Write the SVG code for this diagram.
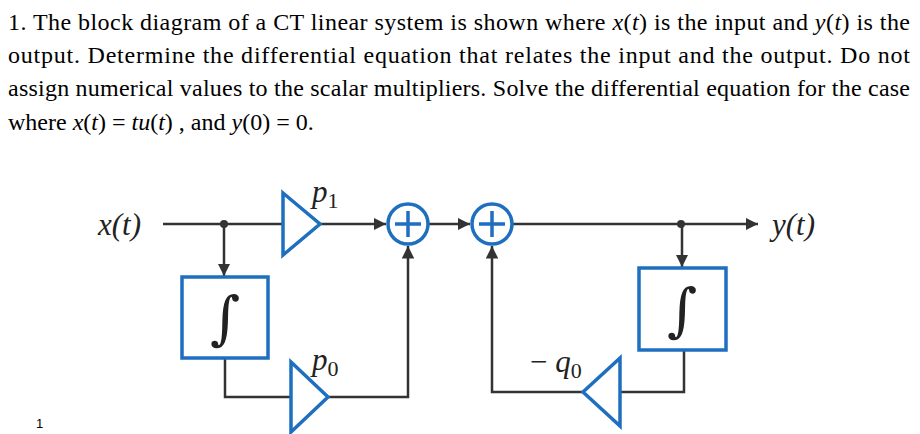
<svg xmlns="http://www.w3.org/2000/svg" width="920" height="434" viewBox="0 0 920 434">
<style>
.t{font-family:"Liberation Serif",serif;font-size:24px;fill:#000}
.i{font-style:italic}
.b{fill:none;stroke:#1f6fc0;stroke-width:3.5}
.w{fill:none;stroke:#333;stroke-width:2.5}
.l{font-family:"Liberation Serif",serif;font-style:italic;font-size:31px;fill:#222}
.s{font-family:"DejaVu Serif",serif;font-size:58px;fill:#222}
</style>
<defs><marker id="a" viewBox="0 0 10 10" refX="10" refY="5" markerWidth="5" markerHeight="5" orient="auto"><path d="M0,0L10,5L0,10z" fill="#333"/></marker></defs>
<rect width="920" height="434" fill="#fff"/>
<text class="t" x="8" y="30" textLength="902" lengthAdjust="spacing">1. The block diagram of a CT linear system is shown where <tspan class="i">x</tspan>(<tspan class="i">t</tspan>) is the input and <tspan class="i">y</tspan>(<tspan class="i">t</tspan>) is the</text>
<text class="t" x="8" y="63" textLength="902" lengthAdjust="spacing">output.  Determine the differential equation that relates the input and the output.  Do not</text>
<text class="t" x="8" y="96" textLength="902" lengthAdjust="spacing">assign numerical values to the scalar multipliers.  Solve the differential equation for the case</text>
<text class="t" x="8" y="130">where  <tspan class="i">x</tspan>(<tspan class="i">t</tspan>) = <tspan class="i">tu</tspan>(<tspan class="i">t</tspan>) , and  <tspan class="i">y</tspan>(0) = 0.</text>
<text x="36" y="428" font-family="Liberation Sans,sans-serif" font-size="13">1</text>
<g id="connectors">
<path class="w" d="M163,224H283"/>
<path class="w" d="M320,224H386" marker-end="url(#a)"/>
<path class="w" d="M429,224H470" marker-end="url(#a)"/>
<path class="w" d="M513,224H758" marker-end="url(#a)"/>
<path class="w" d="M224,224V276" marker-end="url(#a)"/>
<path class="w" d="M225,358V397H291"/>
<path class="w" d="M328,397H408V246" marker-end="url(#a)"/>
<path class="w" d="M682,224V267" marker-end="url(#a)"/>
<path class="w" d="M684,350V392H620"/>
<path class="w" d="M583,392H492V246" marker-end="url(#a)"/>
<circle cx="224" cy="224" r="4" fill="#333"/>
<circle cx="681" cy="224" r="4" fill="#333"/>
</g>
<g id="x"><text class="l" x="98" y="235">x(t)</text></g>
<g id="y"><text class="l" x="772" y="235">y(t)</text></g>
<g id="p1"><path class="b" d="M283,193L320,224L283,255z"/><text class="l" x="312" y="202">p<tspan font-size="22" font-style="normal" dy="6">1</tspan></text></g>
<g id="sum1"><circle class="b" cx="408" cy="224" r="20"/><path class="b" d="M395,224H421M408,211V237"/></g>
<g id="sum2"><circle class="b" cx="492" cy="224" r="20"/><path class="b" d="M479,224H505M492,211V237"/></g>
<g id="int1"><rect class="b" x="182" y="277" width="86" height="81"/><text class="s" x="225" y="338" text-anchor="middle">∫</text></g>
<g id="p0"><path class="b" d="M291,362L328,397L291,432z"/><text class="l" x="312" y="370">p<tspan font-size="22" font-style="normal" dy="6">0</tspan></text></g>
<g id="int2"><rect class="b" x="639" y="268" width="87" height="82"/><text class="s" x="682" y="330" text-anchor="middle">∫</text></g>
<g id="q0"><path class="b" d="M620,358L583,392L620,426z"/><text class="l" x="530" y="372"><tspan font-style="normal">−</tspan> q<tspan font-size="22" font-style="normal" dy="6">0</tspan></text></g>
</svg>
